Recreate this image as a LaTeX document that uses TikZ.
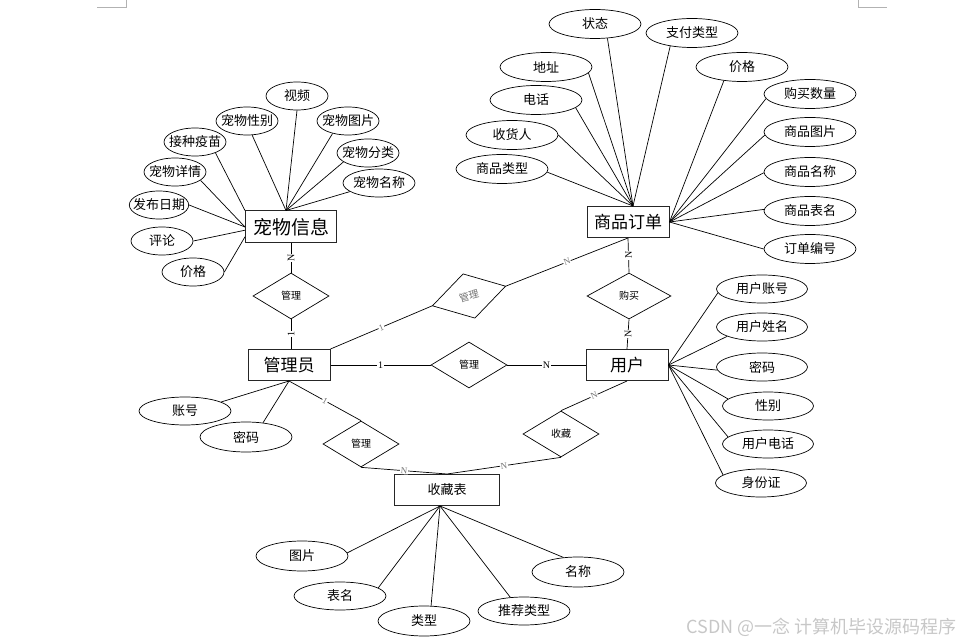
\documentclass[tikz,border=0pt]{standalone}
\usepackage{fontspec}
\setmainfont{Noto Sans CJK SC}
\newfontfamily\letracard{Liberation Serif}
\usetikzlibrary{shapes.geometric}
\tikzstyle{entidad} = [draw=black!85, line width=1pt, rectangle, minimum width=82pt, minimum height=31pt, inner sep=0pt, font=\fontsize{17}{17}\selectfont]
\tikzstyle{atributo} = [draw, line width=0.7pt, ellipse, minimum width=92pt, minimum height=29pt, inner sep=0pt, font=\fontsize{13}{13}\selectfont]
\tikzstyle{atributopet} = [atributo, minimum width=62pt, minimum height=28pt, inner xsep=-5pt]
\tikzstyle{relacion} = [draw, line width=0.7pt, diamond, minimum width=76pt, minimum height=46pt, inner sep=0pt, font=\fontsize{10}{10}\selectfont]
\tikzstyle{card} = [fill=white, inner sep=0.6pt, font=\letracard\fontsize{10}{10}\selectfont]
\tikzstyle{cardgris} = [card, text=black!55, sloped, font=\letracard\fontsize{9}{9}\selectfont]
\tikzstyle{linea} = [line width=0.7pt]

\begin{document}
\begin{tikzpicture}[x=1pt, y=1pt]
	\useasboundingbox (0,0) rectangle (961,-644);
	\draw[black!30] (97,-7) -- (126,-7) -- (126,0);
	\draw[black!30] (858,0) -- (858,-7) -- (887,-7);

	\node[entidad, minimum width=91pt, minimum height=32pt, font=\fontsize{19}{19}\selectfont] (mascota) at (291,-227) {宠物信息};
	\node[entidad] (pedido) at (628,-222) {商品订单};
	\node[entidad] (admin) at (289,-365) {管理员};
	\node[entidad] (usuario) at (627,-365) {用户};
	\node[entidad, minimum width=105pt, font=\fontsize{13}{13}\selectfont] (favorito) at (447,-490) {收藏表};
	\coordinate (mascotaN) at ([xshift=-5pt]mascota.north);
	\coordinate (pedidoN) at ([xshift=5pt]pedido.north);
	\coordinate (favoritoS) at ([xshift=-7pt]favorito.south);

	\node[relacion] (gestion1) at (291,-296) {管理};
	\node[relacion, rotate=15, text=black!55] (gestion2) at (469,-296) {管理};
	\node[relacion, minimum width=84pt] (compra) at (629,-296) {购买};
	\node[relacion] (gestion3) at (469,-365) {管理};
	\node[relacion] (gestion4) at (361,-444) {管理};
	\node[relacion] (coleccion) at (561,-434) {收藏};

	\draw[linea] (mascota.south) -- node[card, rotate=90] {N} (gestion1.north);
	\draw[linea] (gestion1.south) -- node[card, rotate=90] {1} (gestion1.south |- admin.north);
	\draw[linea] (admin.north east) -- node[cardgris] {1} (gestion2.west);
	\draw[linea] (gestion2.east) -- node[cardgris] {N} (pedido.south);
	\draw[linea] (pedido.south) -- node[card, rotate=90] {N} (compra.north);
	\draw[linea] (compra.south) -- node[card, rotate=90] {N} (usuario.north);
	\draw[linea] (admin.east) -- node[card] {1} (gestion3.west);
	\draw[linea] (gestion3.east) -- node[card] {N} (usuario.west);
	\draw[linea] (admin.south) -- node[cardgris] {1} (gestion4.north);
	\draw[linea] (gestion4.south) -- node[cardgris] {N} (favorito.north);
	\draw[linea] (usuario.south) -- node[cardgris] {N} (coleccion.north);
	\draw[linea] (coleccion.south) -- node[cardgris] {N} (favorito.north);

	\node[atributopet] (video) at (297,-96) {视频};
	\node[atributopet] (sexo) at (247,-121) {宠物性别};
	\node[atributopet] (imagenm) at (348,-121) {宠物图片};
	\node[atributopet] (vacuna) at (195,-142) {接种疫苗};
	\node[atributopet] (clase) at (368,-153) {宠物分类};
	\node[atributopet] (detalle) at (175,-172) {宠物详情};
	\node[atributopet, minimum width=72pt] (nombrem) at (379,-183) {宠物名称};
	\node[atributopet, minimum width=58pt] (fecha) at (159,-205) {发布日期};
	\node[atributopet] (comentario) at (162,-241) {评论};
	\node[atributopet] (preciom) at (193,-272) {价格};
	\draw[linea] (video.south) -- (mascotaN);
	\draw[linea] (sexo.290) -- (mascotaN);
	\draw[linea] (imagenm.219) -- (mascotaN);
	\draw[linea] (clase.200) -- (mascotaN);
	\draw[linea] (nombrem) -- (mascotaN);
	\draw[linea] (vacuna.332) -- (mascota.north west);
	\draw[linea] (detalle.342) -- (mascota.west);
	\draw[linea] (fecha.east) -- (mascota.west);
	\draw[linea] (comentario.east) -- (mascota.184);
	\draw[linea] (preciom.east) -- (mascota.192);

	\node[atributo] (estado) at (595,-24) {状态};
	\node[atributo] (pago) at (692,-33) {支付类型};
	\node[atributo] (direccion) at (546,-67) {地址};
	\node[atributo] (precio) at (742,-67) {价格};
	\node[atributo] (telefono) at (536,-100) {电话};
	\node[atributo] (cantidad) at (810,-94) {购买数量};
	\node[atributo] (receptor) at (512,-135) {收货人};
	\node[atributo] (imagen) at (810,-132) {商品图片};
	\node[atributo] (tipo) at (502,-169) {商品类型};
	\node[atributo] (nombre) at (810,-172) {商品名称};
	\node[atributo] (tabla) at (810,-211) {商品表名};
	\node[atributo] (numero) at (810,-249) {订单编号};
	\draw[linea] (estado.311) -- (pedidoN);
	\draw[linea] (pago.211) -- (pedidoN);
	\draw[linea] (direccion.352) -- (pedidoN);
	\draw[linea] (telefono.349) -- (pedidoN);
	\draw[linea] (receptor.east) -- (pedidoN);
	\draw[linea] (tipo.356) -- (pedidoN);
	\draw[linea] (precio.217) -- (pedido.east);
	\draw[linea] (cantidad.186) -- (pedido.east);
	\draw[linea] (imagen.184) -- (pedido.east);
	\draw[linea] (nombre.181) -- (pedido.east);
	\draw[linea] (tabla.178) -- (pedido.east);
	\draw[linea] (numero.west) -- (pedido.east);

	\node[atributo, minimum width=91pt, minimum height=28pt] (cuenta) at (762,-289) {用户账号};
	\node[atributo, minimum width=91pt, minimum height=28pt] (nombreu) at (762,-327) {用户姓名};
	\node[atributo, minimum width=91pt, minimum height=28pt] (clave) at (762,-367) {密码};
	\node[atributo, minimum width=91pt, minimum height=28pt] (genero) at (768,-406) {性别};
	\node[atributo, minimum width=91pt, minimum height=28pt] (telefonou) at (768,-444) {用户电话};
	\node[atributo, minimum width=91pt, minimum height=28pt] (cedula) at (761,-483) {身份证};
	\draw[linea] (cuenta.185) -- (usuario.east);
	\draw[linea] (nombreu.195) -- (usuario.east);
	\draw[linea] (clave.184) -- (usuario.east);
	\draw[linea] (genero.170) -- (usuario.east);
	\draw[linea] (telefonou.170) -- (usuario.east);
	\draw[linea] (cedula.168) -- (usuario.east);

	\node[atributo, minimum height=28pt] (cuentaa) at (185,-411) {账号};
	\node[atributo, minimum height=30pt] (clavea) at (246,-437) {密码};
	\draw[linea] (cuentaa.14) -- (admin.south);
	\draw[linea] (clavea.40) -- (admin.south);

	\node[atributo, minimum height=30pt] (foto) at (302,-556) {图片};
	\node[atributo, minimum height=28pt] (tablaf) at (340,-596) {表名};
	\node[atributo, minimum height=30pt] (clasef) at (424,-621) {类型};
	\node[atributo, minimum height=28pt] (recomendado) at (524,-611) {推荐类型};
	\node[atributo, minimum height=30pt] (nombref) at (578,-572) {名称};
	\draw[linea] (foto.4) -- (favoritoS);
	\draw[linea] (tablaf.12) -- (favoritoS);
	\draw[linea] (clasef.65) -- (favoritoS);
	\draw[linea] (recomendado.135) -- (favoritoS);
	\draw[linea] (nombref.135) -- (favoritoS);

	\node[text=black!22, anchor=east, inner sep=0pt, font=\fontsize{18}{18}\selectfont] (marca) at (957,-627) {CSDN @一念 计算机毕设源码程序};
\end{tikzpicture}
\end{document}
